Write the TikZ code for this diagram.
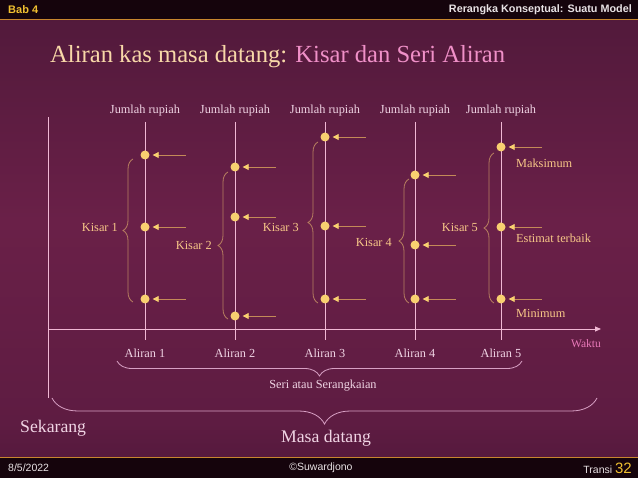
\documentclass[tikz,border=0pt]{standalone}
\usepackage{fontspec}
\setmainfont{Liberation Serif}
\setsansfont{Liberation Sans}
\usetikzlibrary{decorations.pathreplacing,arrows.meta,calc}
\definecolor{hdrbg}{HTML}{15040C}
\definecolor{hdrline}{HTML}{C8862E}
\definecolor{hdrgold}{HTML}{F0C030}
\definecolor{hdrtext}{HTML}{E8E2E4}
\definecolor{bga}{HTML}{220818}
\definecolor{bgb}{HTML}{3E1230}
\definecolor{bgc}{HTML}{5E1C42}
\definecolor{bgd}{HTML}{6A2048}
\definecolor{bge}{HTML}{4C1838}
\definecolor{bgf}{HTML}{2A0E20}
\pgfdeclareverticalshading{bgshade}{100bp}{color(0bp)=(bga); color(13bp)=(bgb); color(29bp)=(bgc); color(52bp)=(bgd); color(81bp)=(bge); color(100bp)=(bgf)}
\definecolor{titletan}{HTML}{F8D8A8}
\definecolor{titlepink}{HTML}{F090C8}
\definecolor{palepink}{HTML}{F0D4E4}
\definecolor{axispink}{HTML}{F0B8D4}
\definecolor{dotgold}{HTML}{F8D070}
\definecolor{shaft}{HTML}{C48A58}
\definecolor{bracetan}{HTML}{B88060}
\definecolor{kisartan}{HTML}{F8C888}
\definecolor{waktupink}{HTML}{E878B8}
\definecolor{lowbrace}{HTML}{D8A0C4}
\tikzset{
  axisline/.style={draw=axispink, line width=0.9pt},
  dotnode/.style={circle, fill=dotgold, inner sep=0pt, minimum size=9pt},
  ptr/.style={draw=shaft, line width=0.9pt, -{Triangle[length=6pt,width=6pt,fill=dotgold,color=dotgold]}, shorten >=3pt},
  kbrace/.style={draw=bracetan, line width=0.8pt, decorate, decoration={brace, amplitude=10pt}},
  lbrace/.style={draw=lowbrace, line width=0.8pt, decorate, decoration={brace, amplitude=#1}},
  smalltxt/.style={font=\fontsize{12.3}{14}\selectfont, inner sep=0pt},
  kisar/.style={smalltxt, text=kisartan},
  jr/.style={smalltxt, text=palepink},
}
\begin{document}
\begin{tikzpicture}[x=1pt,y=-1pt]
\useasboundingbox (0,0) rectangle (638,478);
% background
\shade[shading=bgshade] (0,19) rectangle (638,458);
\fill[hdrbg] (0,0) rectangle (638,19);
\fill[hdrbg] (0,458) rectangle (638,478);
\draw[hdrline, line width=1pt] (0,19.5) -- (638,19.5);
\draw[hdrline, line width=1pt] (0,457.5) -- (638,457.5);
% header / footer texts
\node[anchor=west, inner sep=0pt, text=hdrgold, font=\sffamily\bfseries\fontsize{11}{12}\selectfont] (bab) at (8,9.5) {Bab 4};
\node[anchor=east, inner sep=0pt, text=hdrtext, font=\sffamily\bfseries\fontsize{10.8}{12}\selectfont] (hdr) at (632,9.5) {Rerangka Konseptual: Suatu Model};
\node[anchor=west, inner sep=0pt, text=hdrtext, font=\sffamily\fontsize{10.5}{12}\selectfont] (date) at (8,468) {8/5/2022};
\node[inner sep=0pt, text=hdrtext, font=\sffamily\fontsize{10.5}{12}\selectfont] (copy) at (321,468) {©Suwardjono};
\node[anchor=east, inner sep=0pt, text=hdrtext, font=\sffamily\fontsize{10.5}{12}\selectfont] (tr) at (632,468) {Transi {\color{hdrgold}\fontsize{15}{16}\selectfont 32}};
% title
\node[anchor=west, inner sep=0pt, font=\fontsize{24.6}{28}\selectfont] (title) at (50,57) {\color{titletan}Aliran kas masa datang: \color{titlepink}Kisar dan Seri Aliran};
% axes
\coordinate (lt) at (48,117);
\coordinate (lb) at (48,398);
\draw[axisline] (lt) -- (lb);
\coordinate (ax0) at (48,329);
\coordinate (ax1) at (601,329);
\draw[axisline, -{Triangle[length=6pt,width=5pt]}] (ax0) -- (ax1);
\node[anchor=east, inner sep=0pt, text=waktupink, font=\fontsize{11.5}{13}\selectfont] (waktu) at (601,344) {Waktu};
% columns
\foreach \i/\x in {1/145,2/235,3/325,4/415,5/501}{
  \coordinate (t\i) at (\x,122);
  \coordinate (b\i) at (\x,340);
  \draw[axisline] (t\i) -- (b\i);
  \node[jr] (jr\i) at (\x,111) {Jumlah rupiah};
  \node[jr] (al\i) at (\x,353) {Aliran \i};
}
% dots and pointers
\foreach \i/\x/\ya/\yb/\yc in {1/145/155/227/299, 2/235/167/217/316, 3/325/137/226/299, 4/415/175/245/299, 5/501/147/227/299}{
  \node[dotnode] (d\i a) at (\x,\ya) {};
  \node[dotnode] (d\i b) at (\x,\yb) {};
  \node[dotnode] (d\i c) at (\x,\yc) {};
  \coordinate (p\i a) at (\x+41,\ya);
  \coordinate (p\i b) at (\x+41,\yb);
  \coordinate (p\i c) at (\x+41,\yc);
  \draw[ptr] (p\i a) -- (d\i a);
  \draw[ptr] (p\i b) -- (d\i b);
  \draw[ptr] (p\i c) -- (d\i c);
}
% kisar braces
\coordinate (k1b) at (133,302); \coordinate (k1t) at (133,159);
\coordinate (k2b) at (228,319); \coordinate (k2t) at (228,172);
\coordinate (k3b) at (318,303); \coordinate (k3t) at (318,142);
\coordinate (k4b) at (409,303); \coordinate (k4t) at (409,179);
\coordinate (k5b) at (494,303); \coordinate (k5t) at (494,153);
\foreach \i in {1,...,5}{ \draw[kbrace] (k\i b) -- (k\i t); }
\node[kisar, anchor=east] (ks1) at (118,227) {Kisar 1};
\node[kisar, anchor=east] (ks2) at (212,245) {Kisar 2};
\node[kisar, anchor=east] (ks3) at (299,227) {Kisar 3};
\node[kisar, anchor=east] (ks4) at (392,242) {Kisar 4};
\node[kisar, anchor=east] (ks5) at (478,227) {Kisar 5};
% right labels
\node[kisar, anchor=west] (maks) at (516,163) {Maksimum};
\node[kisar, anchor=west] (est) at (516,238) {Estimat terbaik};
\node[kisar, anchor=west] (mini) at (516,313) {Minimum};
% lower braces
\coordinate (s0) at (117,361); \coordinate (s1) at (522,361);
\draw[lbrace=15pt] (s1) -- (s0);
\node[jr, text=palepink] (seri) at (323,386) {Seri atau Serangkaian};
\coordinate (m0) at (52,398); \coordinate (m1) at (597,398);
\draw[lbrace=26pt] (m1) -- (m0);
\node[anchor=west, inner sep=0pt, text=palepink, font=\fontsize{17.7}{20}\selectfont] (sek) at (20,428) {Sekarang};
\node[inner sep=0pt, text=palepink, font=\fontsize{17.7}{20}\selectfont] (masa) at (326,438) {Masa datang};
\end{tikzpicture}
\end{document}
